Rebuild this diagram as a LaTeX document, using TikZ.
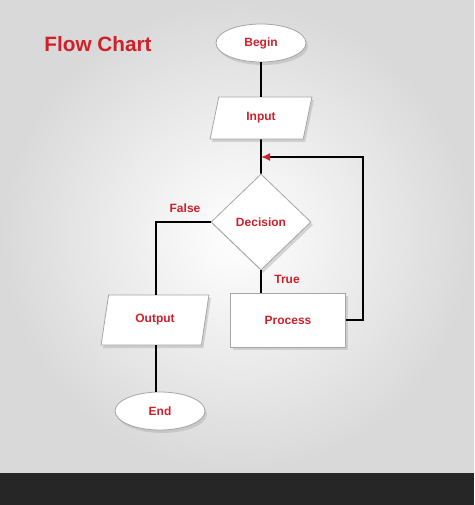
\documentclass[tikz,border=0pt]{standalone}
\usepackage{fontspec}
\setmainfont{Liberation Sans}
\usetikzlibrary{shapes.geometric,arrows.meta,shadows}
\definecolor{lbl}{HTML}{D0202A}
\tikzset{
  box/.style={draw=gray!70,fill=white,line width=0.8pt,font=\bfseries\large,text=lbl,
     drop shadow={shadow xshift=2pt,shadow yshift=-3pt,fill=gray!60}},
  term/.style={box,ellipse,minimum width=90pt,minimum height=38pt},
  io/.style={box,trapezium,trapezium left angle=78,trapezium right angle=102,trapezium stretches=true},
  dec/.style={box,diamond,minimum width=100pt,minimum height=96pt,inner sep=0pt},
  proc/.style={box,rectangle,minimum width=115pt,minimum height=54pt},
  ln/.style={line width=1.6pt,black},
  lab/.style={font=\bfseries\large,text=lbl}
}
\begin{document}
\begin{tikzpicture}[x=1pt,y=-1pt]
\useasboundingbox (0,0) rectangle (474,505);
\shade[inner color=white,outer color=gray!30] (0,0) rectangle (474,473);
\fill[black!85] (0,473) rectangle (474,505);
\node[font=\bfseries\huge,text=lbl] (title) at (98,44) {Flow Chart};
\node[term] (begin) at (261,43) {Begin};
\node[io,minimum width=102pt,minimum height=42pt] (input) at (261,118) {Input};
\node[dec] (dec) at (261,222) {Decision};
\node[io,minimum width=108pt,minimum height=50pt] (output) at (155,320) {Output};
\node[proc] (proc) at (288,320) {Process};
\node[term] (end) at (160,411) {End};
\coordinate (loopb) at (363,320);
\coordinate (loopt) at (363,157);
\coordinate (join) at (261,157);
\coordinate (fl) at (156,222);
\draw[ln] (begin) -- (input);
\draw[ln] (input) -- (dec);
\draw[ln] (dec.west) -- (fl) -- (fl |- output.north);
\draw[ln] (dec.south) -- (dec.south |- proc.north);
\draw[ln] (fl |- output.south) -- (fl |- end.north);
\draw[ln,-{Latex[length=9pt,width=8pt,color=lbl]}] (proc.east) -- (loopb) -- (loopt) -- (join);
\node[lab] (f) at (185,208) {False};
\node[lab] (t) at (287,279) {True};
\end{tikzpicture}
\end{document}
